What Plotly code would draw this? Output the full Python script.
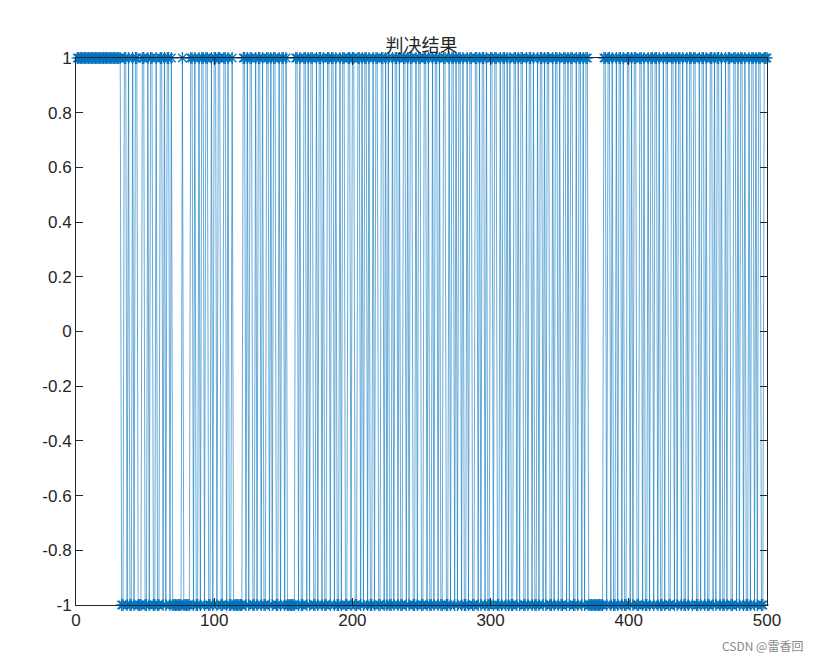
import plotly.graph_objects as go

title_text = "判决结果"
pattern = (
    "11111111111111111111111111111111" "001101001011000110"
    "010110010011010110100" "00000" "1" "00000" "110100101101100101"
    "1011001101001" "0000000" "110101100101101001101011001011"
    "010" "00000" "110100110101100101101001101101001011001101"
    "10011010110100101100110101001011010011010110010110"
    "01101001011010011001011010110100101100110101101001"
    "10110010110101001101011001011010010110101100101101"
    "001101011001011010110" "0000000000" "1101101001011010011"
    "01011001101001011011010010110011010110100101101100"
    "10110100110101101001011001101011010010110101100111"
)
decisions = [1 if c == "1" else -1 for c in pattern]
sample_index = list(range(1, len(decisions) + 1))

x_tick_vals = [0, 100, 200, 300, 400, 500]
y_tick_vals = [-1, -0.8, -0.6, -0.4, -0.2, 0, 0.2, 0.4, 0.6, 0.8, 1]
y_tick_text = ["-1", "-0.8", "-0.6", "-0.4", "-0.2", "0", "0.2", "0.4", "0.6", "0.8", "1"]

fig = go.Figure()
fig.add_trace(go.Scatter(
    x=sample_index, y=decisions, mode="lines+markers",
    line=dict(color="#0072BD", width=0.6),
    marker=dict(symbol="asterisk-open", size=10, color="#0072BD",
                line=dict(color="#0072BD", width=1.2)),
    cliponaxis=False, showlegend=False,
))

axis_common = dict(
    showgrid=False, zeroline=False, showline=True, linecolor="#262626",
    linewidth=1, mirror="allticks", ticks="inside", ticklen=7,
    tickcolor="#262626", tickfont=dict(family="Liberation Sans, Arial", size=17, color="#262626"),
)
fig.update_xaxes(range=[0, 500], tickvals=x_tick_vals, **axis_common)
fig.update_yaxes(range=[-1, 1], tickvals=y_tick_vals, ticktext=y_tick_text, **axis_common)

fig.update_layout(
    width=820, height=660,
    margin=dict(l=68, r=61, t=50, b=63),
    paper_bgcolor="white", plot_bgcolor="white",
    title=dict(text=title_text, x=0.5, xref="paper", xanchor="center",
               y=1, yref="paper", yanchor="bottom", pad=dict(b=6),
               font=dict(family="Noto Sans CJK SC", size=18, color="#262626")),
    annotations=[dict(text="CSDN @雷香回", xref="paper", yref="paper",
                      x=1.0 + (797 - 759) / 691, y=-(637 - 597) / 547,
                      xanchor="right", yanchor="middle",
                      showarrow=False, font=dict(family="Noto Sans CJK SC", size=12, color="#8a8a8a"))],
)
fig.write_html("out.html")
